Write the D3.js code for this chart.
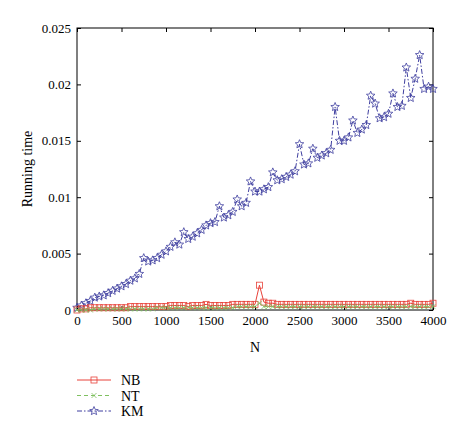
<!DOCTYPE html>
<html>
<head>
<meta charset="UTF-8">
<script src="https://d3js.org/d3.v7.min.js"></script>
<style>
  body { margin: 0; background: #fff; font-family: "Liberation Serif", "DejaVu Serif", serif; }
  text { font-family: "Liberation Serif", serif; }
</style>
</head>
<body>
<svg id="chart" width="474" height="438"></svg>
<script>
// N values, step 50
var nValues = d3.range(0, 4001, 50);
var kmValues = [0.0002,0.0004,0.0006,0.0008,0.0011,0.0012,0.0013,0.0015,0.0017,0.0019,
  0.0021,0.0023,0.0026,0.0028,0.0032,0.0046,0.0043,0.0044,0.0046,0.0049,
  0.0052,0.0056,0.0060,0.0058,0.0069,0.0063,0.0065,0.0068,0.0071,0.0075,
  0.0077,0.0078,0.0092,0.0082,0.0084,0.0087,0.0098,0.0092,0.0095,0.0114,
  0.0105,0.0105,0.0107,0.0109,0.0122,0.0115,0.0116,0.0118,0.0120,0.0123,
  0.0147,0.0129,0.0130,0.0143,0.0135,0.0137,0.0139,0.0142,0.0180,0.0150,
  0.0150,0.0153,0.0168,0.0157,0.0160,0.0164,0.0190,0.0183,0.0170,0.0171,
  0.0174,0.0192,0.0180,0.0181,0.0215,0.0188,0.0205,0.0226,0.0196,0.0198,0.0196];
var nbValues = [0.0000,0.0001,0.0001,0.0002,0.0002,0.0002,0.0002,0.0002,0.0002,0.0002,
  0.0002,0.0002,0.0003,0.0003,0.0003,0.0003,0.0003,0.0003,0.0003,0.0003,
  0.0003,0.0004,0.0004,0.0004,0.0004,0.0003,0.0004,0.0004,0.0004,0.0005,
  0.0004,0.0004,0.0004,0.0004,0.0004,0.0005,0.0005,0.0005,0.0005,0.0005,
  0.0005,0.0022,0.0007,0.0006,0.0006,0.0005,0.0005,0.0005,0.0005,0.0005,
  0.0005,0.0005,0.0005,0.0005,0.0005,0.0005,0.0005,0.0005,0.0005,0.0005,
  0.0005,0.0005,0.0005,0.0005,0.0005,0.0005,0.0005,0.0005,0.0005,0.0005,
  0.0005,0.0005,0.0005,0.0005,0.0005,0.0006,0.0005,0.0005,0.0005,0.0005,0.0006];
var ntValues = [0.0000,0.0000,0.0000,0.0000,0.0001,0.0001,0.0001,0.0001,0.0001,0.0001,
  0.0001,0.0001,0.0001,0.0001,0.0001,0.0001,0.0001,0.0001,0.0002,0.0002,
  0.0002,0.0002,0.0002,0.0002,0.0002,0.0002,0.0002,0.0002,0.0002,0.0002,
  0.0002,0.0002,0.0002,0.0002,0.0002,0.0002,0.0003,0.0003,0.0003,0.0003,
  0.0003,0.0006,0.0003,0.0003,0.0003,0.0003,0.0003,0.0003,0.0003,0.0003,
  0.0003,0.0003,0.0003,0.0003,0.0003,0.0003,0.0003,0.0003,0.0003,0.0003,
  0.0003,0.0003,0.0003,0.0003,0.0003,0.0003,0.0003,0.0003,0.0003,0.0003,
  0.0003,0.0003,0.0003,0.0003,0.0003,0.0003,0.0003,0.0003,0.0003,0.0003,0.0003];
var xTicks = [0,500,1000,1500,2000,2500,3000,3500,4000];
var yTicks = [0,0.005,0.01,0.015,0.02,0.025];
var yTickLabels = ["0","0.005","0.01","0.015","0.02","0.025"];
var seriesNames = ["NB","NT","KM"];

var svg = d3.select("#chart");
var pLeft = 77, pRight = 433, pTop = 28, pBottom = 310;
var x = d3.scaleLinear().domain([0, 4000]).range([pLeft, pRight]);
var y = d3.scaleLinear().domain([0, 0.025]).range([pBottom, pTop]);

// box
svg.append("rect").attr("x", pLeft).attr("y", pTop).attr("width", pRight - pLeft).attr("height", pBottom - pTop)
  .attr("fill", "none").attr("stroke", "#000").attr("stroke-width", 1);

// ticks (inward on all sides)
svg.append("g").attr("transform", "translate(0," + pBottom + ")")
  .call(d3.axisBottom(x).tickValues(xTicks).tickSize(-4).tickPadding(6).tickFormat(d3.format("d")))
  .call(g => g.select(".domain").remove());
svg.append("g").attr("transform", "translate(0," + pTop + ")")
  .call(d3.axisTop(x).tickValues(xTicks).tickSize(-4).tickFormat(""))
  .call(g => g.select(".domain").remove());
svg.append("g").attr("transform", "translate(" + pLeft + ",0)")
  .call(d3.axisLeft(y).tickValues(yTicks).tickSize(-4).tickPadding(6).tickFormat((d, i) => yTickLabels[i]))
  .call(g => g.select(".domain").remove());
svg.append("g").attr("transform", "translate(" + pRight + ",0)")
  .call(d3.axisRight(y).tickValues(yTicks).tickSize(-4).tickFormat(""))
  .call(g => g.select(".domain").remove());
svg.selectAll(".tick text").attr("font-size", 13).attr("fill", "#000").style("font-family", "Liberation Serif");

// axis titles
svg.append("text").attr("x", (pLeft + pRight) / 2).attr("y", 352).attr("text-anchor", "middle")
  .attr("font-size", 14).text("N");
svg.append("text").attr("transform", "translate(32," + ((pTop + pBottom) / 2) + ") rotate(-90)")
  .attr("text-anchor", "middle").attr("font-size", 14).text("Running time");

var line = d3.line().x((d, i) => x(nValues[i])).y(d => y(d));

function star(cx, cy, r) {
  var p = [];
  for (var k = 0; k < 10; k++) {
    var a = -Math.PI / 2 + k * Math.PI / 5, rr = k % 2 ? r * 0.45 : r;
    p.push([cx + rr * Math.cos(a), cy + rr * Math.sin(a)]);
  }
  return "M" + p.join("L") + "Z";
}
function drawMarker(g, kind, cx, cy, color) {
  if (kind === "NB") {
    g.append("rect").attr("x", cx - 3).attr("y", cy - 3).attr("width", 6).attr("height", 6)
      .attr("fill", "none").attr("stroke", color).attr("stroke-width", 0.8);
  } else if (kind === "NT") {
    g.append("path").attr("d", "M" + (cx - 2.5) + "," + (cy - 2.5) + "L" + (cx + 2.5) + "," + (cy + 2.5) +
      "M" + (cx - 2.5) + "," + (cy + 2.5) + "L" + (cx + 2.5) + "," + (cy - 2.5))
      .attr("stroke", color).attr("stroke-width", 0.8);
  } else {
    g.append("path").attr("d", star(cx, cy, 4.5)).attr("fill", "none").attr("stroke", color).attr("stroke-width", 0.8);
  }
}

var styles = {
  NB: { color: "#e8423a", dash: null, data: nbValues },
  NT: { color: "#7fc060", dash: "4,3", data: ntValues },
  KM: { color: "#3f3fa0", dash: "5,2,1.5,2", data: kmValues }
};

["KM", "NB", "NT"].forEach(function (name) {
  var s = styles[name];
  svg.append("path").datum(s.data).attr("d", line).attr("fill", "none")
    .attr("stroke", s.color).attr("stroke-width", 1).attr("stroke-dasharray", s.dash);
  var g = svg.append("g");
  s.data.forEach(function (v, i) { drawMarker(g, name, x(nValues[i]), y(v), s.color); });
});

// legend
seriesNames.forEach(function (name, i) {
  var s = styles[name], ly = 380 + i * 15.5;
  svg.append("line").attr("x1", 77).attr("x2", 111).attr("y1", ly).attr("y2", ly)
    .attr("stroke", s.color).attr("stroke-width", 1).attr("stroke-dasharray", s.dash);
  drawMarker(svg, name, 94, ly, s.color);
  svg.append("text").attr("x", 121).attr("y", ly + 5).attr("font-size", 14).text(name);
});
</script>
</body>
</html>
